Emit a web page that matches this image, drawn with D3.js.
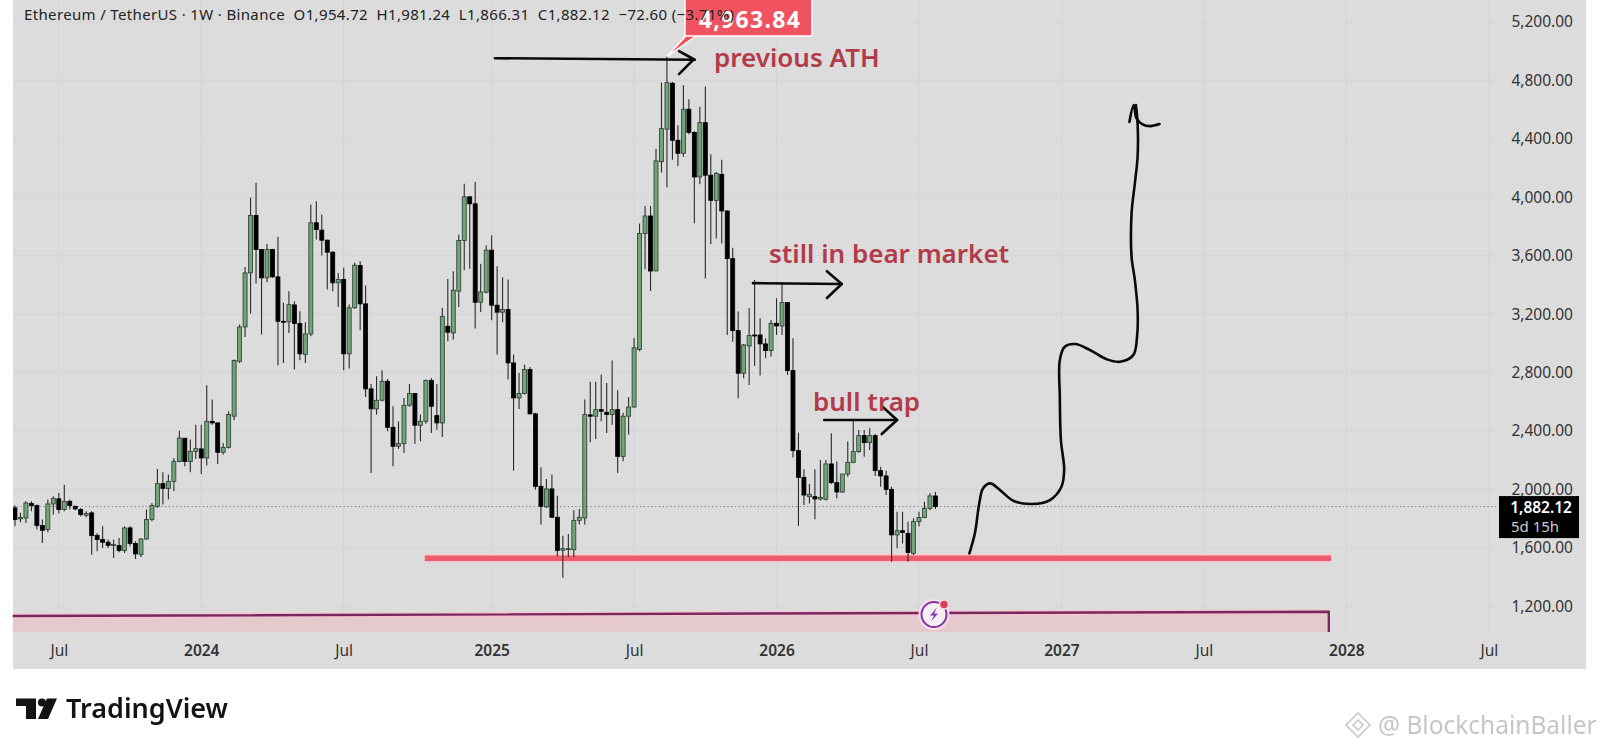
<!DOCTYPE html>
<html>
<head>
<meta charset="utf-8">
<script src="https://cdn.jsdelivr.net/npm/d3@7"></script>
<style>
  html, body { margin:0; padding:0; background:#fff; overflow:hidden; }
  svg { display:block; filter:blur(0.5px); font-family:"Noto Sans", sans-serif; }
  .note { font-weight:600; fill:#b33a49; }
  .ink { fill:none; stroke:#0a0a0a; stroke-width:2.6; stroke-linecap:round; stroke-linejoin:round; }
</style>
</head>
<body>
<svg id="chart" width="1600" height="749"></svg>
<script>
// weekly candles, first bar is the week of 8 May 2023
const firstBar = '2023-05-08';
const opens = [
  1873,1798,1804,1903,1889,1752,1725,1900,1935,1862,
  1918,1884,1862,1823,1839,1685,1656,1638,1615,1615,
  1581,1736,1629,1553,1660,1793,1884,2039,2007,2055,
  2190,2350,2190,2259,2277,2215,2466,2455,2254,2288,
  2501,2877,3112,3482,3875,3642,3448,3642,3455,3151,
  3147,3263,3135,2923,3064,3825,3775,3706,3624,3414,
  3437,2928,3243,3533,3270,2688,2551,2610,2740,2425,
  2295,2313,2576,2656,2439,2466,2745,2505,2455,3117,
  3071,3357,3704,4003,3955,3281,3350,3638,3261,3213,
  3231,2866,2626,2656,2820,2517,2021,1880,2003,1809,
  1583,1587,1587,1788,1804,2510,2501,2546,2528,2512,
  2546,2226,2501,2564,2957,3751,3872,3495,4244,4466,
  4781,4390,4301,4603,4443,4139,4511,4151,3979,4157,
  3906,3580,3087,2795,2982,3057,3057,2996,2950,3137,
  3119,3279,2813,2265,2082,1950,1950,1934,1932,2174,
  2046,1982,2105,2185,2258,2368,2320,2368,2128,2092,
  2000,1688,1717,1699,1562,1779,1808,1870,1954.72];
const highs = [
  1889,1839,1918,1918,1896,1793,1930,1953,1975,2032,
  1930,1889,1873,1850,1850,1701,1747,1656,1656,1667,
  1747,1747,1645,1667,1862,1907,2140,2117,2101,2215,
  2402,2350,2341,2443,2443,2713,2615,2460,2318,2535,
  2889,3128,3523,3996,4099,3642,3681,3647,3729,3277,
  3357,3288,3220,3144,3950,3973,3882,3711,3631,3482,
  3517,3265,3551,3562,3396,2722,2775,2816,2756,2569,
  2466,2626,2722,2660,2512,2752,2763,2722,3243,3441,
  3494,3745,4092,4003,4105,3544,3672,3740,3528,3453,
  3437,2923,2797,2854,2838,2524,2151,2071,2101,1957,
  1683,1695,1857,1866,2615,2736,2736,2786,2729,2882,
  2679,2524,2633,3037,3820,3941,3941,4333,4785,4963.84,
  4790,4493,4767,4671,4454,4619,4758,4294,4173,4256,
  3911,3655,3217,2996,3240,3434,3171,3035,3160,3308,
  3411,3279,3035,2388,2137,2037,2137,2201,2201,2384,
  2190,2105,2327,2471,2407,2407,2418,2379,2155,2128,
  2018,1847,1847,1779,1802,1847,1916,1973,1981.24];
const lows = [
  1747,1775,1770,1850,1725,1633,1707,1827,1834,1850,
  1862,1857,1816,1809,1553,1576,1599,1599,1530,1569,
  1564,1610,1523,1537,1656,1781,1873,1896,1930,1987,
  2185,2158,2117,2208,2106,2163,2443,2174,2238,2279,
  2473,2866,3044,3204,3409,3060,3418,3448,2848,2866,
  3071,2820,2884,2866,3048,3711,3601,3368,3357,3249,
  2816,2827,3236,3090,2633,2112,2512,2603,2398,2158,
  2277,2249,2565,2313,2329,2450,2386,2409,2359,3014,
  3026,3249,3501,3510,3101,3215,3341,3158,2923,3144,
  2752,2128,2551,2649,2512,1998,1759,1873,1804,1542,
  1395,1537,1537,1759,1759,2322,2345,2466,2386,2443,
  2112,2192,2375,2558,2946,3507,3358,3495,4169,4066,
  4256,4214,4278,4431,3822,4089,3443,3678,3717,3683,
  3057,3011,2624,2761,2715,2845,2779,2898,2909,3057,
  3057,2783,2219,1749,1893,1904,1795,1923,1923,2037,
  1939,1977,2087,2178,2251,2224,2270,2092,2018,1961,
  1505,1596,1630,1505,1551,1745,1802,1859,1866.31];
const closes = [
  1793,1807,1907,1889,1752,1720,1900,1937,1862,1918,
  1889,1866,1827,1834,1683,1656,1638,1617,1622,1581,
  1736,1629,1558,1660,1793,1889,2039,2007,2055,2192,
  2352,2190,2259,2279,2215,2466,2455,2254,2288,2512,
  2882,3112,3482,3875,3642,3448,3642,3455,3151,3144,
  3265,3135,2928,3064,3825,3779,3706,3624,3414,3437,
  2928,3243,3535,3270,2688,2551,2610,2740,2425,2295,
  2313,2576,2656,2439,2466,2745,2569,2455,3185,3076,
  3364,3704,4003,3955,3281,3352,3638,3261,3213,3231,
  2866,2626,2656,2820,2517,2021,1884,2003,1809,1581,
  1594,1594,1788,1809,2512,2501,2546,2535,2512,2546,
  2226,2501,2564,2969,3752,3872,3495,4249,4470,4785,
  4390,4301,4603,4443,4139,4511,4151,3979,4164,3906,
  3580,3087,2795,2989,3053,3050,2996,2950,3137,3119,
  3279,2813,2265,2082,1961,1966,1934,1945,2174,2046,
  1982,2105,2185,2258,2368,2320,2368,2128,2092,2000,
  1688,1717,1704,1567,1779,1808,1870,1955,1882.12];

const priceTicks = [1200,1600,2000,2400,2800,3200,3600,4000,4400,4800,5200];
const timeTicks  = ['2023-07-03','2024-01-01','2024-07-01','2025-01-06','2025-07-07','2026-01-05','2026-07-06','2027-01-04','2027-07-05','2028-01-03','2028-07-03'];
const timeLabels = ['Jul','2024','Jul','2025','Jul','2026','Jul','2027','Jul','2028','Jul'];

const lastPrice = 1882.12;
const athPrice  = 4963.84;
const headerText = 'Ethereum / TetherUS · 1W · Binance  O1,954.72  H1,981.24  L1,866.31  C1,882.12  −72.60 (−3.71%)';

// drawn on top of the chart, as [bars after firstBar, price]
const supportLevel = [[74.8,1528],[240.2,1528]];
const rangeTop = [[-0.4,1133],[239.8,1162]];
const rangeFloor = 1023;
const athArrow  = [[[87.6,4952],[124.1,4942]], [[121.2,5000],[123.9,4945],[121.2,4843]]];
const bearArrow = [[[134.7,3412],[150.9,3406]], [[148.2,3494],[150.9,3406],[148.2,3310]]];
const trapArrow = [[[147.7,2475],[161.0,2475]], [[158.4,2564],[161.0,2475],[158.2,2379]]];
const forecast = [
  [174.2,1562],[175.2,1699],[176.0,1904],[176.7,2007],[178.0,2041],[179.8,1995],[182.2,1922],[185.6,1900],
  [188.9,1927],[191.0,2018],[191.5,2132],[190.9,2338],[190.7,2634],[190.7,2885],[191.6,2976],[193.5,2995],
  [196.2,2954],[199.3,2890],[201.7,2874],[204.1,2919],[204.8,3045],[204.9,3228],[204.4,3433],[203.8,3592],
  [203.8,3889],[204.4,4095],[204.9,4277],[204.9,4505],[204.6,4631]];
const forecastHead = [[203.4,4516],[204.2,4631],[204.7,4540],[205.8,4499],[207.2,4487],[208.9,4501]];

const candles = opens.map((o,i) => ({ i, o, h:highs[i], l:lows[i], c:closes[i] }));

const panel = { left:13, right:1586, bottom:669, plotBottom:632, gridRight:1499 };
const svg = d3.select('#chart');

const parse = d3.utcParse('%Y-%m-%d');
const x = d3.scaleUtc()
  .domain([parse('2023-07-03'), parse('2028-07-03')])
  .range([58.8, 1488.8]);
const y = d3.scaleLinear().domain([1200,5200]).range([606.2,22]);

const weekMs = 7*24*3600*1000;
const xBar = i => x(new Date(+parse(firstBar) + i*weekMs));
const inkLine = d3.line().x(d => xBar(d[0])).y(d => y(d[1]));

svg.append('rect')
  .attr('x',panel.left).attr('y',0)
  .attr('width',panel.right-panel.left).attr('height',panel.bottom)
  .attr('fill','#dcdcdc');

const clip = svg.append('defs').append('clipPath').attr('id','plot');
clip.append('rect')
  .attr('x',panel.left).attr('y',0)
  .attr('width',panel.gridRight-panel.left).attr('height',panel.plotBottom);

// grid
const grid = svg.append('g').attr('stroke','#d4d4d4').attr('stroke-width',1);
grid.selectAll('.gy').data(priceTicks).join('line')
  .attr('x1',panel.left).attr('x2',panel.gridRight)
  .attr('y1',d => y(d)).attr('y2',d => y(d));
grid.selectAll('.gx').data(timeTicks).join('line')
  .attr('x1',d => x(parse(d))).attr('x2',d => x(parse(d)))
  .attr('y1',0).attr('y2',panel.plotBottom);

// last price line
svg.append('line')
  .attr('x1',panel.left).attr('x2',panel.gridRight)
  .attr('y1',y(lastPrice)).attr('y2',y(lastPrice))
  .attr('stroke','#777').attr('stroke-dasharray','1.2 2.6');

// long position box along the bottom
const rangeArea = d3.area().x(d => xBar(d[0])).y0(y(rangeFloor)).y1(d => y(d[1]));
svg.append('path').datum(rangeTop).attr('d',rangeArea).attr('fill','#e5c9cd');
svg.append('path').datum(rangeTop).attr('d',inkLine)
  .attr('fill','none').attr('stroke','#f6c4d2').attr('stroke-width',5);
svg.append('path')
  .datum([...rangeTop,[rangeTop[1][0],rangeFloor]])
  .attr('d',inkLine)
  .attr('fill','none').attr('stroke','#76285f').attr('stroke-width',2.4);

// support line, the candles sit over it
svg.append('path').datum(supportLevel).attr('d',inkLine)
  .attr('stroke','#f8c6cc').attr('stroke-width',9).attr('fill','none');
svg.append('path').datum(supportLevel).attr('d',inkLine)
  .attr('stroke','#ee5c6c').attr('stroke-width',5.5).attr('fill','none');

// candles
const bars = svg.append('g').attr('clip-path','url(#plot)');
bars.selectAll('.wick').data(candles).join('line')
  .attr('class','wick')
  .attr('x1',d => xBar(d.i)).attr('x2',d => xBar(d.i))
  .attr('y1',d => y(d.h)).attr('y2',d => y(d.l))
  .attr('stroke','#2a2a2a').attr('stroke-width',1.1);
bars.selectAll('.body').data(candles).join('rect')
  .attr('class','body')
  .attr('x',d => xBar(d.i)-2)
  .attr('width',4)
  .attr('y',d => y(Math.max(d.o,d.c)))
  .attr('height',d => Math.max(1,Math.abs(y(d.o)-y(d.c))))
  .attr('fill',d => d.c >= d.o ? '#6fa577' : '#000')
  .attr('stroke',d => d.c >= d.o ? '#2c3a30' : '#000')
  .attr('stroke-width',0.8);

// axes
const yAxis = d3.axisRight(y).tickValues(priceTicks).tickSize(0)
  .tickFormat(d3.format(',.2f'));
const yG = svg.append('g').attr('transform','translate(1573,0)').call(yAxis);
yG.select('.domain').remove();
yG.selectAll('text')
  .attr('x',0).attr('text-anchor','end')
  .style('font-family','"Noto Sans", sans-serif').style('font-size','15.5px').attr('fill','#333');

const xAxis = d3.axisBottom(x)
  .tickValues(timeTicks.map(parse)).tickSize(0)
  .tickFormat((d,i) => timeLabels[i]);
const xG = svg.append('g').attr('transform',`translate(0,${panel.plotBottom})`).call(xAxis);
xG.select('.domain').remove();
xG.selectAll('text')
  .attr('y',13).attr('dy','0.71em')
  .style('font-family','"Noto Sans", sans-serif').style('font-size','15.5px')
  .style('font-weight',(d,i) => i % 2 ? 600 : 400)
  .attr('fill','#333');

// last price tag
const tag = svg.append('g');
tag.append('rect').attr('x',1499).attr('y',y(lastPrice)-10.5).attr('width',80).attr('height',42).attr('fill','#000');
tag.append('text').attr('x',1572).attr('y',y(lastPrice)+6)
  .attr('text-anchor','end').attr('fill','#fff')
  .style('font-size','15.5px').style('font-weight',600).text(d3.format(',.2f')(lastPrice));
tag.append('text').attr('x',1511).attr('y',y(lastPrice)+25)
  .attr('fill','#ccc').style('font-size','15px').text('5d 15h');

// ATH callout
const ax = xBar(119), ay = y(athPrice);
const callout = svg.append('g');
callout.append('path')
  .attr('d',`M${ax},${ay} L${ax+22},${ay-24} L${ax+34},${ay-24} Z`)
  .attr('fill','#f0525f').attr('stroke','#fff').attr('stroke-width',1.5);
callout.append('rect')
  .attr('x',ax+18).attr('y',-3).attr('width',127).attr('height',39).attr('rx',2)
  .attr('fill','#f0525f').attr('stroke','#fff').attr('stroke-width',1.5);
callout.append('text')
  .attr('x',ax+83).attr('y',28).attr('text-anchor','middle')
  .attr('fill','#fff').style('font-size','23px').style('font-weight',700).style('letter-spacing','1.3px')
  .text(d3.format(',.2f')(athPrice));

// header text goes over the callout
svg.append('text').attr('x',24).attr('y',20)
  .attr('xml:space','preserve').style('white-space','pre')
  .attr('fill','#222').style('font-size','15px').style('letter-spacing','0.35px')
  .text(headerText);

// hand drawn notes
const hand = svg.append('g');
[athArrow, bearArrow, trapArrow].forEach(a => {
  a.forEach(part => hand.append('path').datum(part).attr('class','ink').attr('d',inkLine));
});
const curve = d3.line().x(d => xBar(d[0])).y(d => y(d[1])).curve(d3.curveCatmullRom.alpha(0.5));
hand.append('path').datum(forecast).attr('class','ink').attr('d',curve);
hand.append('path').datum(forecastHead).attr('class','ink').attr('d',curve);

const notes = [
  { text:'previous ATH',         px:714, py:67,  size:26 },
  { text:'still in bear market', px:769, py:263, size:26 },
  { text:'bull trap',            px:813, py:411, size:26 }
];
svg.selectAll('.note').data(notes).join('text')
  .attr('class','note')
  .attr('x',d => d.px).attr('y',d => d.py)
  .style('font-size',d => d.size+'px')
  .text(d => d.text);

// lightning badge on the range line
const badge = svg.append('g').attr('transform','translate(934,614.5)');
badge.append('circle').attr('r',15.5).attr('fill','#f7dff0');
badge.append('circle').attr('r',12.5).attr('fill','#f5eef5').attr('stroke','#85359a').attr('stroke-width',2);
badge.append('path').attr('d','M3,-7 L-4,1 L0,1 L-3,7 L4,-1 L0,-1 Z').attr('fill','#7e3aa8');
badge.append('circle').attr('cx',10).attr('cy',-10).attr('r',4.5).attr('fill','#d8414f').attr('stroke','#f7dff0').attr('stroke-width',1.5);

// TradingView logo
const logo = svg.append('g').attr('fill','#131313');
logo.append('path').attr('d','M16,698.5 H36 V719 H26 V706 H16 Z');
logo.append('circle').attr('cx',42).attr('cy',702.5).attr('r',4);
logo.append('path').attr('d','M47,698.5 H57 L48,719 H38 Z');
logo.append('text').attr('x',66).attr('y',718).style('font-size','27px').style('font-weight',600).text('TradingView');

// watermark
const mark = svg.append('g').attr('fill','none').attr('stroke','#c9c9c9').attr('stroke-width',1.6);
mark.append('path').attr('d','M1358,713 L1370,725 L1358,737 L1346,725 Z');
mark.append('path').attr('d','M1358,720 L1363,725 L1358,730 L1353,725 Z');
svg.append('text').attr('x',1378).attr('y',734)
  .attr('fill','#c6c6c6').style('font-size','24.5px')
  .text('@ BlockchainBaller');
</script>
</body>
</html>
